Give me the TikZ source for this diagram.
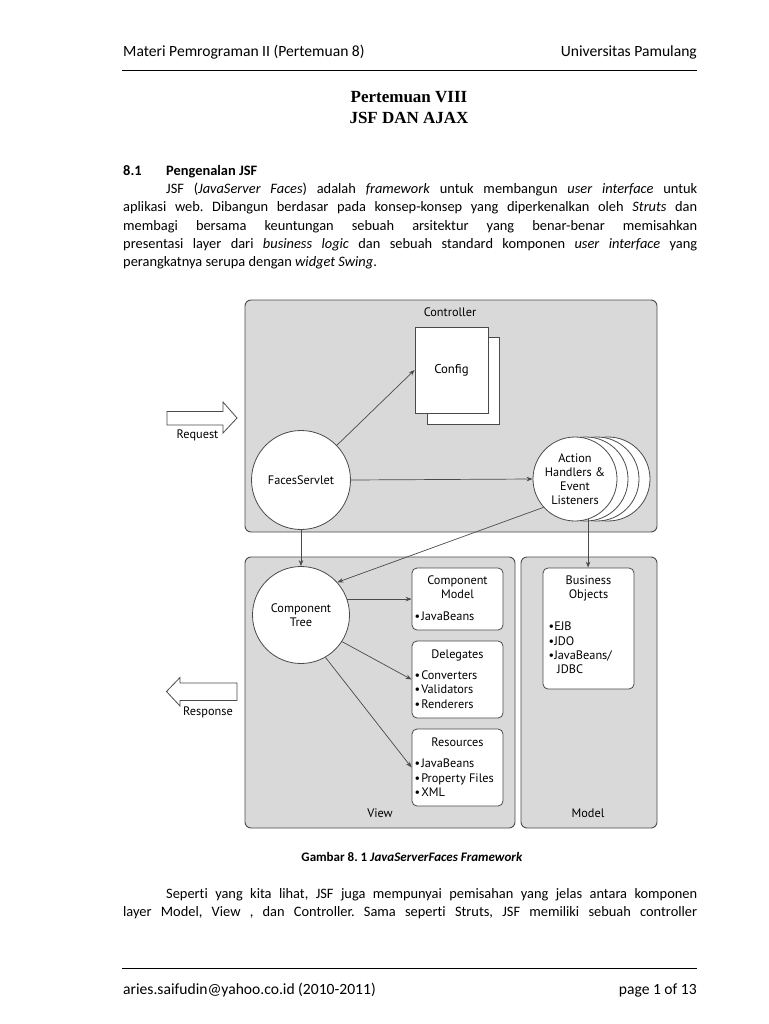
\documentclass[tikz,border=0pt]{standalone}
\usepackage{fontspec}
\setmainfont{Carlito}[Ligatures=NoCommon]
\newfontfamily\titlefont{Liberation Serif}
\newfontfamily\diafont{PT Sans}
\usetikzlibrary{arrows.meta}
\definecolor{boxgray}{HTML}{D9D9D9}
\definecolor{edgec}{HTML}{4A4A4A}
\frenchspacing
\begin{document}
\begin{tikzpicture}[x=1pt,y=-1pt,
  body/.style={font=\fontsize{14.4}{18}\selectfont, inner sep=0pt, anchor=base west},
  hf/.style={font=\fontsize{15.6}{18}\selectfont, inner sep=0pt, anchor=base west},
  dtext/.style={font=\diafont\fontsize{12.3}{14.2}\selectfont, inner sep=0pt, text height=8.6pt, text depth=0pt},
  bul/.style={dtext, anchor=west},
  group/.style={draw=edgec, line width=0.9pt, fill=boxgray, rounded corners=6pt},
  wbox/.style={draw=edgec, line width=0.8pt, fill=white, rounded corners=5pt, inner sep=0pt},
  page/.style={draw=edgec, line width=0.8pt, fill=white, inner sep=0pt},
  circ/.style={draw=edgec, line width=0.8pt, fill=white, circle, inner sep=0pt, align=center, font=\diafont\fontsize{12.3}{14.2}\selectfont},
  arr/.style={draw=edgec, line width=0.7pt, -{Stealth[length=6pt,width=4.5pt]}},
  blockarr/.style={draw=edgec, line width=0.8pt, fill=white, line join=miter}
]
\useasboundingbox (0,0) rectangle (768,1024);
\fill[white] (0,0) rectangle (768,1024);

% header
\node[hf] (hl) at (123,57) {Materi Pemrograman II (Pertemuan 8)};
\node[hf, anchor=base east] (hr) at (697,57) {Universitas Pamulang};
\draw[line width=1.4pt] (122,70.5) -- (697,70.5);

% title
\node[inner sep=0pt, anchor=base, font=\titlefont\bfseries\fontsize{17}{21}\selectfont] (t1) at (409,103) {Pertemuan VIII};
\node[inner sep=0pt, anchor=base, font=\titlefont\bfseries\fontsize{17}{21}\selectfont] (t2) at (409,124) {JSF DAN AJAX};

% section
\node[body, font=\bfseries\fontsize{14.4}{18}\selectfont] (s1) at (123,176) {8.1};
\node[body, font=\bfseries\fontsize{14.4}{18}\selectfont] (s2) at (166,176) {Pengenalan JSF};

% paragraph 1
\node[body] (p1) at (166,194) {\makebox[531pt][s]{JSF (\textit{JavaServer Faces}) adalah \textit{framework} untuk membangun \textit{user interface} untuk}};
\node[body] (p2) at (123,212) {\makebox[574pt][s]{aplikasi web. Dibangun berdasar pada konsep-konsep yang diperkenalkan oleh \textit{Struts} dan}};
\node[body] (p3) at (123,230) {\makebox[574pt][s]{membagi bersama keuntungan sebuah arsitektur yang benar-benar memisahkan}};
\node[body] (p4) at (123,248) {\makebox[574pt][s]{presentasi layer dari \textit{business logic} dan sebuah standard komponen \textit{user interface} yang}};
\node[body] (p5) at (123,266) {perangkatnya serupa dengan \textit{widget Swing}.};

% ===== diagram =====
\node[group, minimum width=412pt, minimum height=232pt] (ctrl) at (451,416) {};
\node[group, minimum width=270pt, minimum height=271pt] (view) at (380,692.5) {};
\node[group, minimum width=136pt, minimum height=271pt] (model) at (589,692.5) {};
\node[dtext] (ctrlL) at (450,312) {Controller};
\node[dtext] (viewL) at (380,813) {View};
\node[dtext] (modelL) at (588,813) {Model};

% config pages
\node[page, minimum width=72pt, minimum height=87pt] (cfgb) at (463,380.5) {};
\node[page, minimum width=73pt, minimum height=86pt, font=\diafont\fontsize{12.8}{14}\selectfont] (cfg) at (451.5,370) {Config};

% circles
\node[circ, minimum size=99pt] (fs) at (301,480) {FacesServlet};
\node[circ, minimum size=84pt] (a3) at (608,479) {};
\node[circ, minimum size=84pt] (a2) at (597,479) {};
\node[circ, minimum size=84pt] (a1) at (586,479) {};
\node[circ, minimum size=84pt] (act) at (575,479) {Action\\Handlers \&\\Event\\Listeners};
\node[circ, minimum size=97pt] (ct) at (301,615) {Component\\Tree};

% white boxes
\node[wbox, minimum width=91pt, minimum height=62pt] (cm) at (457.5,599) {};
\node[wbox, minimum width=91pt, minimum height=77pt] (del) at (457.5,679.5) {};
\node[wbox, minimum width=91pt, minimum height=77pt] (res) at (457.5,767.5) {};
\node[wbox, minimum width=91pt, minimum height=121pt] (bo) at (588.5,628.5) {};

\node[dtext] (cm1) at (457.5,580) {Component};
\node[dtext] (cm2) at (457.5,594) {Model};
\node[bul] (cm3) at (414.5,616) {•\kern1pt JavaBeans};

\node[dtext] (de1) at (457.5,654) {Delegates};
\node[bul] (de2) at (414.5,675) {•\kern1pt Converters};
\node[bul] (de3) at (414.5,689) {•\kern1pt Validators};
\node[bul] (de4) at (414.5,704) {•\kern1pt Renderers};

\node[dtext] (re1) at (457.5,742) {Resources};
\node[bul] (re2) at (414.5,763) {•\kern1pt JavaBeans};
\node[bul] (re3) at (414.5,778) {•\kern1pt Property Files};
\node[bul] (re4) at (414.5,792) {•\kern1pt XML};

\node[dtext] (bo1) at (588.5,580) {Business};
\node[dtext] (bo2) at (588.5,594) {Objects};
\node[bul] (bo3) at (548.5,626) {•EJB};
\node[bul] (bo4) at (548.5,641) {•JDO};
\node[bul] (bo5) at (548.5,655) {•JavaBeans/};
\node[bul] (bo6) at (557,669) {JDBC};

% connectors
\draw[arr] (fs) -- (cfg.west);
\draw[arr] (fs.east) -- (act.west);
\draw[arr] (act.222) -- (ct.42);
\draw[arr] (fs.south) -- (ct.north);
\draw[arr] (act.-72) -- (act.-72 |- bo.north);
\draw[arr] (ct.19) -- (ct.19 -| cm.west);
\draw[arr] (ct.-33) -- (del.west);
\draw[arr] (ct.-60) -- (res.west);

% block arrows
\draw[blockarr] (167,411.5) -- (223,411.5) -- (223,402) -- (237,418) -- (223,433) -- (223,425) -- (167,425) -- cycle;
\node[dtext] (reqL) at (197.5,434) {Request};
\draw[blockarr] (237,683) -- (180,683) -- (180,677.5) -- (166.5,691.5) -- (180,706) -- (180,700.5) -- (237,700.5) -- cycle;
\node[dtext] (resL) at (208,711) {Response};

% caption
\node[inner sep=0pt, anchor=base, font=\bfseries\fontsize{13}{14}\selectfont] (cap) at (412,861) {Gambar 8. 1 \textit{JavaServerFaces Framework}};

% paragraph 2
\node[body] (q1) at (166,898) {\makebox[531pt][s]{Seperti yang kita lihat, JSF juga mempunyai pemisahan yang jelas antara komponen}};
\node[body] (q2) at (123,916) {\makebox[574pt][s]{layer Model, View , dan Controller. Sama seperti Struts, JSF memiliki sebuah controller}};

% footer
\draw[line width=1.4pt] (122,968.5) -- (697,968.5);
\node[hf] (fl) at (123,994) {aries.saifudin@yahoo.co.id (2010-2011)};
\node[hf, anchor=base east] (fr) at (697,994) {page 1 of 13};
\end{tikzpicture}
\end{document}
